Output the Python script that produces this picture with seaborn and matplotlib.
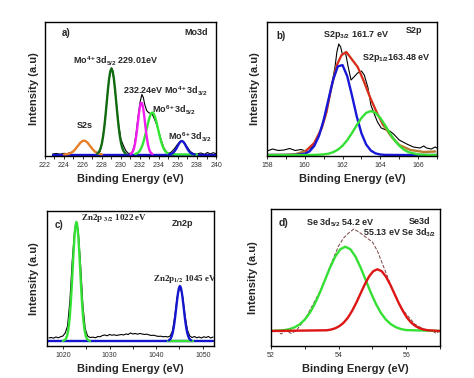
import matplotlib
matplotlib.use('Agg')
import matplotlib.pyplot as plt
import seaborn as sns

# ---------------- a) Mo3d ----------------
mo_base_x = [222.8, 240.0]
mo_base_y = [0, 0]
mo_raw_x = [222.8, 223.2, 223.6, 224.0, 224.3, 224.6, 224.9, 225.2, 225.5, 225.8, 226.1, 226.4, 226.7,
            227.0, 227.3, 227.6, 227.8, 228.0, 228.25, 228.5, 228.75, 229.0, 229.25, 229.5, 229.75,
            230.0, 230.25, 230.5, 230.75, 231.0, 231.2, 231.4, 231.6, 231.8, 232.0, 232.2, 232.35,
            232.5, 232.7, 232.9, 233.1, 233.3, 233.5, 233.75, 234.0, 234.25, 234.5, 234.75, 235.0,
            235.3, 235.6, 235.9, 236.2, 236.45, 236.7, 237.0, 237.3, 237.6, 238.0, 238.4, 238.8,
            239.1, 239.4, 239.7, 240.0]
mo_raw_y = [0.5, 1.0, 0.3, 1.2, 0.6, 1.8, 2.5, 5.5, 9.0, 12.5, 14.0, 12.5, 9.0,
            5.5, 2.8, 1.5, 3.0, 11.6, 28.0, 52.0, 76.0, 86.5, 76.0, 53.0, 30.0,
            15.0, 9.0, 4.0, 1.2, 1.0, 3.0, 9.0, 22.0, 38.0, 52.0, 60.0, 57.0,
            50.0, 44.0, 42.0, 41.0, 40.0, 36.0, 30.0, 22.0, 14.0, 7.0, 3.0, 1.0,
            2.5, 5.5, 9.5, 12.8, 13.5, 11.5, 7.0, 3.0, 1.0, 0.5, 1.5, 0.2,
            2.0, 0.5, 1.8, 0.8]
s2s_x = [224.0, 224.25, 224.5, 224.75, 225.0, 225.25, 225.5, 225.75, 226.0, 226.25, 226.5, 226.75,
         227.0, 227.25, 227.5, 227.75, 228.0]
s2s_y = [0.1, 0.2, 0.7, 1.6, 3.3, 6.0, 9.1, 12.1, 13.8, 13.6, 11.6, 8.5, 5.4, 2.9, 1.4, 0.6, 0.2]
mo4_52_x = [227.5, 227.625, 227.75, 227.875, 228.0, 228.125, 228.25, 228.375, 228.5, 228.625, 228.75,
            228.875, 229.0, 229.125, 229.25, 229.375, 229.5, 229.625, 229.75, 229.875, 230.0,
            230.125, 230.25, 230.375, 230.5]
mo4_52_y = [0.95, 2.0, 3.8, 6.9, 11.6, 18.6, 28.0, 39.4, 52.2, 64.9, 75.9, 83.3, 86.0,
            83.3, 75.9, 64.9, 52.2, 39.4, 28.0, 18.6, 11.6, 6.9, 3.8, 2.0, 0.95]
mo4_32_x = [231.0, 231.1, 231.2, 231.3, 231.4, 231.5, 231.6, 231.7, 231.8, 231.9, 232.0, 232.1,
            232.2, 232.3, 232.4, 232.5, 232.6, 232.7, 232.8, 232.9, 233.0, 233.1, 233.2, 233.3]
mo4_32_y = [0.5, 1.2, 2.3, 4.2, 7.4, 12.1, 18.2, 25.8, 34.0, 41.9, 48.1, 51.5,
            51.5, 48.1, 41.9, 34.0, 25.8, 18.2, 12.1, 7.4, 4.2, 2.3, 1.2, 0.5]
mo6_52_x = [231.5, 231.65, 231.8, 231.95, 232.1, 232.25, 232.4, 232.55, 232.7, 232.85, 233.0, 233.15,
            233.3, 233.45, 233.6, 233.75, 233.9, 234.05, 234.2, 234.35, 234.5, 234.65, 234.8,
            234.95, 235.1, 236.0, 237.0, 238.0]
mo6_52_y = [0.5, 1.0, 1.9, 3.4, 5.7, 9.1, 13.7, 19.2, 25.5, 31.7, 37.0, 40.7,
            42.0, 40.7, 37.0, 31.7, 25.5, 19.2, 13.7, 9.1, 5.7, 3.4, 1.9,
            1.0, 0.5, 0.0, 0.0, 0.0]
mo6_32_x = [235.05, 235.2, 235.35, 235.5, 235.65, 235.8, 235.95, 236.1, 236.25, 236.4, 236.55, 236.7,
            236.85, 237.0, 237.15, 237.3, 237.45, 237.6, 237.75]
mo6_32_y = [0.15, 0.4, 0.9, 1.8, 3.4, 5.5, 8.2, 10.8, 12.8, 13.5, 12.8, 10.8,
            8.2, 5.5, 3.4, 1.8, 0.9, 0.4, 0.15]
mo_ticks = [222, 224, 226, 228, 230, 232, 234, 236, 238, 240]

# ---------------- b) S2p ----------------
s_raw_x = [158.0, 158.3, 158.6, 158.9, 159.2, 159.5, 159.8, 160.05, 160.4, 160.8, 161.1, 161.4, 161.6,
           161.7, 161.8, 161.9, 162.0, 162.15, 162.3, 162.45, 162.6, 162.8, 163.0, 163.15, 163.35,
           163.5, 163.7, 163.85, 164.05, 164.3, 164.5, 164.7, 165.0, 165.2, 165.4, 165.75, 166.1,
           166.3, 166.45, 166.7, 166.9, 167.0]
s_raw_y = [4, 6, 4.5, 5, 6.5, 4.5, 5.5, 4, 8, 22, 43, 67, 88,
           103, 111, 108, 100, 103, 88, 75, 78, 82, 84, 80, 67,
           50, 40, 33, 27, 25, 24, 21, 15, 13, 11, 8, 7,
           9, 7, 6, 8, 7]
s_env_x = [158.0, 159.0, 159.5, 160.05, 160.5, 160.9, 161.15, 161.4, 161.7, 161.95, 162.2, 162.4, 162.8,
           163.1, 163.45, 163.8, 164.15, 164.6, 165.0, 165.6, 166.3, 166.9]
s_env_y = [0.0, 0.2, 0.8, 4, 12, 27, 43, 67, 90, 100, 103, 98, 88,
           75, 58, 43, 30, 18, 10, 5, 3, 3.5]
s_32_x = [158.0, 159.0, 159.5, 160.0, 160.25, 160.5, 160.75, 161.0, 161.25, 161.5, 161.75, 162.0, 162.25,
          162.5, 162.75, 163.0, 163.25, 163.5, 163.75, 164.0, 164.25, 165.0, 166.0, 167.0]
s_32_y = [0.0, 0.0, 0.1, 1.3, 3.6, 9.0, 19.0, 34.9, 55.2, 75.3, 88.6, 89.9, 78.7,
          59.4, 38.7, 21.7, 10.5, 4.4, 1.6, 0.5, 0.1, 0.0, 0.0, 0.0]
s_12_x = [158.0, 159.0, 160.0, 160.5, 161.0, 161.25, 161.5, 161.75, 162.0, 162.25, 162.5, 162.75, 163.0,
          163.25, 163.5, 163.75, 164.0, 164.25, 164.5, 164.75, 165.0, 165.25, 165.5, 166.0, 166.5, 167.0]
s_12_y = [0.0, 0.0, 0.0, 0.1, 0.6, 1.3, 2.8, 5.3, 9.3, 14.9, 22.0, 29.8, 37.0,
          42.1, 44.0, 42.1, 37.0, 29.8, 22.0, 14.9, 9.3, 5.3, 2.8, 0.6, 0.1, 0.0]
s_ticks = [158, 160, 162, 164, 166]

# ---------------- c) Zn2p ----------------
zn_base_x = [1016.7, 1052.2]
zn_base_y = [0, 0]
zn_raw_x = [1017.0, 1017.5, 1018.0, 1018.5, 1019.0, 1019.5, 1020.0, 1020.5, 1021.0, 1021.5, 1022.0,
            1022.5, 1022.9, 1023.3, 1023.8, 1024.3, 1024.8, 1025.3, 1025.8, 1026.5, 1027.0, 1027.5,
            1028.0, 1028.5, 1029.0, 1029.5, 1030.0, 1030.5, 1031.0, 1031.5, 1032.0, 1032.5, 1033.0,
            1033.5, 1034.0, 1034.5, 1035.0, 1035.5, 1036.0, 1036.5, 1037.0, 1037.5, 1038.0, 1038.5,
            1039.0, 1039.5, 1040.0, 1040.5, 1041.0, 1041.5, 1042.0, 1042.5, 1043.0, 1043.5, 1044.0,
            1044.5, 1045.1, 1045.7, 1046.2, 1046.7, 1047.2, 1047.7, 1048.2, 1048.7, 1049.2, 1049.7,
            1050.2, 1050.7, 1051.2, 1051.7, 1052.2]
zn_raw_y = [3.0, 3.5, 2.8, 4.0, 3.2, 4.2, 5.0, 8, 15, 40, 80,
            110, 119, 110, 76, 35, 12, 5, 3.5, 3.8, 3.2, 4.5,
            4.2, 5.5, 6.0, 5.2, 6.5, 5.8, 6.2, 5.5, 6.0, 6.5, 6.0,
            7.0, 6.5, 8.0, 7.0, 7.5, 6.8, 7.5, 7.0, 6.5, 6.8, 6.0,
            5.5, 5.8, 5.0, 4.6, 4.8, 4.2, 4.5, 4.0, 5, 10, 25,
            44, 55, 44, 25, 11, 5, 3.5, 4.5, 3.2, 4.0, 3.0,
            4.2, 3.5, 4.5, 3.0, 4.0]
zn_32_x = [1020.0, 1020.5, 1020.7, 1020.9, 1021.1, 1021.3, 1021.5, 1021.7, 1021.9, 1022.1, 1022.3, 1022.5,
           1022.7, 1022.9, 1023.1, 1023.3, 1023.5, 1023.7, 1023.9, 1024.1, 1024.3, 1024.5, 1024.7,
           1024.9, 1025.1, 1025.3, 1025.8]
zn_32_y = [0.0, 1.3, 2.7, 5.2, 9.5, 16.1, 25.7, 38.7, 54.5, 72.2, 89.8, 105.0,
           115.3, 119.0, 115.3, 105.0, 89.8, 72.2, 54.5, 38.7, 25.7, 16.1, 9.5,
           5.2, 2.7, 1.3, 0.0]
zn_32_tail_x = [1042.6, 1047.8]
zn_32_tail_y = [0, 0]
zn_12_x = [1042.7, 1042.9, 1043.1, 1043.3, 1043.5, 1043.7, 1043.9, 1044.1, 1044.3, 1044.5, 1044.7, 1044.9,
           1045.1, 1045.3, 1045.5, 1045.7, 1045.9, 1046.1, 1046.3, 1046.5, 1046.7, 1046.9, 1047.1,
           1047.3, 1047.5]
zn_12_y = [0.6, 1.3, 2.4, 4.4, 7.4, 11.9, 17.9, 25.2, 33.4, 41.5, 48.5, 53.3,
           55.0, 53.3, 48.5, 41.5, 33.4, 25.2, 17.9, 11.9, 7.4, 4.4, 2.4,
           1.3, 0.6]
zn_ticks = [1020, 1030, 1040, 1050]

# ---------------- d) Se3d ----------------
se_raw_x = [52.0, 52.15, 52.3, 52.45, 52.6, 52.75, 53.0, 53.25, 53.5, 53.75, 54.0, 54.15, 54.3, 54.45,
            54.6, 54.8, 55.0, 55.15, 55.3, 55.45, 55.6, 55.8, 56.0, 56.25, 56.5, 56.75, 56.9, 57.0]
se_raw_y = [-1.0, 1.0, -3.0, 0.5, -2.5, 0.5, 11.5, 27, 43, 65, 85, 93, 98, 102,
            99, 94, 89, 80, 67, 54, 41, 26, 17, 7, 2, 0.5, -2.5, 0.5]
se_52_x = [52.0, 52.4, 52.55, 52.7, 52.85, 53.0, 53.15, 53.3, 53.45, 53.6, 53.75, 53.9, 54.05, 54.2,
           54.35, 54.5, 54.65, 54.8, 54.95, 55.1, 55.25, 55.4, 55.55, 55.7, 55.85, 56.0, 57.0]
se_52_y = [0.0, 0.9, 1.9, 3.7, 6.7, 11.4, 18.2, 27.4, 38.6, 51.2, 63.6, 74.4, 81.7, 84.3,
           81.7, 74.4, 63.6, 51.2, 38.6, 27.4, 18.2, 11.4, 6.7, 3.7, 1.9, 0.9, 0.0]
se_32_x = [52.0, 53.65, 53.775, 53.9, 54.025, 54.15, 54.275, 54.4, 54.525, 54.65, 54.775, 54.9, 55.025,
           55.15, 55.275, 55.4, 55.525, 55.65, 55.775, 55.9, 56.025, 56.15, 56.275, 56.4, 56.525,
           56.65, 57.0]
se_32_y = [0.0, 0.7, 1.4, 2.7, 4.9, 8.3, 13.3, 20.1, 28.3, 37.5, 46.6, 54.4, 59.8,
           61.7, 59.8, 54.4, 46.6, 37.5, 28.3, 20.1, 13.3, 8.3, 4.9, 2.7, 1.4,
           0.7, 0.0]
se_ticks = [52, 54, 56]

sns.set_style('ticks')
plt.rcParams['font.family'] = ['Liberation Sans', 'DejaVu Sans']
plt.rcParams['mathtext.fontset'] = 'custom'
plt.rcParams['mathtext.rm'] = 'Liberation Sans:bold'
plt.rcParams['mathtext.bf'] = 'Liberation Sans:bold'
plt.rcParams['mathtext.it'] = 'Liberation Sans:bold'
plt.rcParams['mathtext.default'] = 'bf'

fig = plt.figure(figsize=(4.74, 3.78), dpi=100)
ax_a = fig.add_axes([0.0949, 0.5873, 0.3608, 0.3545])
ax_b = fig.add_axes([0.5633, 0.5873, 0.3586, 0.3545])
ax_c = fig.add_axes([0.0992, 0.0847, 0.3523, 0.3571])
ax_d = fig.add_axes([0.5717, 0.0847, 0.3565, 0.3624])


def line(ax, x, y, color, lw=1.7, **kw):
    sns.lineplot(x=x, y=y, ax=ax, color=color, linewidth=lw, estimator=None, sort=False, **kw)


def style(ax, xlim, ylim, ticks, minor, ylpad):
    ax.set_xlim(*xlim)
    ax.set_ylim(*ylim)
    ax.set_xticks(ticks)
    ax.set_xticks(minor, minor=True)
    ax.set_yticks([])
    ax.tick_params(axis='x', which='both', direction='out', length=2.5, width=0.7,
                   labelsize=5, pad=1.5, labelcolor='#333333')
    for sp in ax.spines.values():
        sp.set_linewidth(1.0)
        sp.set_color('black')
    ax.set_xlabel('Binding Energy (eV)', fontsize=8, fontweight='bold', labelpad=4)
    ax.set_ylabel('Intensity (a.u)', fontsize=8, fontweight='bold', labelpad=ylpad)


FS = 6.5

# a)
line(ax_a, mo_raw_x, mo_raw_y, 'black', lw=0.8)
line(ax_a, mo_base_x, mo_base_y, '#1515d0')
line(ax_a, s2s_x, s2s_y, '#e8802a')
line(ax_a, mo4_52_x, mo4_52_y, '#116b11')
line(ax_a, mo6_52_x, mo6_52_y, '#33e633')
line(ax_a, mo4_32_x, mo4_32_y, '#f01cf0')
line(ax_a, mo6_32_x, mo6_32_y, '#1515d0')
style(ax_a, (222, 240), (-1.5, 132.5), mo_ticks, list(range(222, 241)), 4)
tk = dict(transform=ax_a.transAxes, fontsize=FS, fontweight='bold', va='center')
ax_a.text(0.10, 0.918, 'a)', fontsize=7, fontweight='bold', va='center', transform=ax_a.transAxes)
ax_a.text(0.815, 0.918, 'Mo3d', **tk)
ax_a.text(0.165, 0.709, r'Mo$^{4+}$3d$_{5/2}$ 229.01eV', **tk)
ax_a.text(0.456, 0.485, r'232.24eV Mo$^{4+}$3d$_{3/2}$', **tk)
ax_a.text(0.626, 0.343, r'Mo$^{6+}$3d$_{5/2}$', **tk)
ax_a.text(0.187, 0.224, 'S2s', **tk)
ax_a.text(0.719, 0.142, r'Mo$^{6+}$3d$_{3/2}$', **tk)

# b)
line(ax_b, s_raw_x, s_raw_y, 'black', lw=0.8)
line(ax_b, s_env_x, s_env_y, '#b87a30')
line(ax_b, s_env_x[3:17], s_env_y[3:17], '#e62020', lw=1.2)
line(ax_b, s_32_x, s_32_y, '#1818d8')
line(ax_b, s_12_x, s_12_y, '#33e033')
style(ax_b, (158, 167), (-1, 133), s_ticks, list(range(158, 168)), 5)
tk = dict(transform=ax_b.transAxes, fontsize=FS, fontweight='bold', va='center')
ax_b.text(0.057, 0.896, 'b)', fontsize=7, fontweight='bold', va='center', transform=ax_b.transAxes)
ax_b.text(0.329, 0.903, r'S2p$_{3/2}$ 161.7 eV', **tk)
ax_b.text(0.815, 0.94, 'S2p', **tk)
ax_b.text(0.559, 0.731, r'S2p$_{1/2}$163.48 eV', **tk)

# c)
line(ax_c, zn_raw_x, zn_raw_y, 'black', lw=0.8)
line(ax_c, zn_base_x, zn_base_y, '#1515d0')
line(ax_c, zn_32_tail_x, zn_32_tail_y, '#33e033')
line(ax_c, zn_32_x, zn_32_y, '#33e033')
line(ax_c, zn_12_x, zn_12_y, '#1515d0')
style(ax_c, (1016.6, 1052.4), (-5, 130), zn_ticks, list(range(1020, 1051, 5)), 6)
tk = dict(transform=ax_c.transAxes, fontsize=FS, fontweight='bold', va='center')
tks = dict(transform=ax_c.transAxes, fontsize=6.5, fontweight='bold', va='center',
           family='Liberation Serif', math_fontfamily='stix')
ax_c.text(0.048, 0.896, 'c)', fontsize=7, fontweight='bold', va='center', transform=ax_c.transAxes)
ax_c.text(0.205, 0.946, r'Zn2p $_{\mathbf{3/2}}$ 1022 eV', **tks)
ax_c.text(0.745, 0.909, 'Zn2p', **tk)
ax_c.text(0.635, 0.494, r'Zn2p$_{\mathbf{1/2}}$ 1045 eV', **tks)

# d)
line(ax_d, se_raw_x, se_raw_y, '#7a4040', lw=0.7, linestyle='--')
line(ax_d, se_52_x, se_52_y, '#33e033')
line(ax_d, se_32_x, se_32_y, '#dd1515')
style(ax_d, (52, 57), (-15, 122), se_ticks, list(range(52, 58)), 9)
tk = dict(transform=ax_d.transAxes, fontsize=FS, fontweight='bold', va='center')
ax_d.text(0.045, 0.896, 'd)', fontsize=7.5, fontweight='bold', va='center', transform=ax_d.transAxes)
ax_d.text(0.205, 0.9, r'Se 3d$_{5/2}$ 54.2 eV', **tk)
ax_d.text(0.815, 0.912, 'Se3d', **tk)
ax_d.text(0.545, 0.823, r'55.13 eV Se 3d$_{3/2}$', **tk)

fig.savefig('out.png', dpi=100)
